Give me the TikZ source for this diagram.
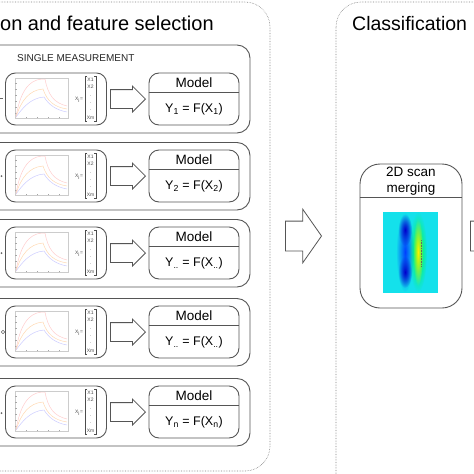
\documentclass[tikz,border=0pt]{standalone}
\usepackage{fontspec}
\setmainfont{Liberation Sans}
\usetikzlibrary{shapes.arrows,fadings}
\definecolor{jetcyan}{RGB}{20,225,235}
\definecolor{boxgray}{RGB}{85,85,85}
\tikzfading[name=blobfade, inner color=transparent!0, outer color=transparent!100]

\begin{document}
\begin{tikzpicture}[x=1pt,y=-1pt]
  \tikzstyle{every node}=[inner sep=0pt]
  \tikzstyle{frame}=[draw=black!50, densely dotted, line width=0.6pt, rounded corners=25pt]
  \tikzstyle{rowbox}=[draw=boxgray, line width=0.9pt, rounded corners=13pt]
  \tikzstyle{measbox}=[rectangle, draw=boxgray, line width=0.9pt, rounded corners=10pt, minimum width=101pt, minimum height=52pt]
  \tikzstyle{modelbox}=[rectangle, draw=boxgray, line width=0.9pt, rounded corners=10pt, minimum width=90pt, minimum height=52pt]
  \tikzstyle{fatarrow}=[single arrow, draw=boxgray, line width=0.8pt, fill=white, minimum height=35pt, inner ysep=9pt, single arrow head extend=3.5pt]
  \tikzstyle{bigarrow}=[fatarrow, minimum height=36pt, inner ysep=14.5pt, single arrow head extend=12pt, single arrow tip angle=110]
  \tikzstyle{tiny}=[font=\fontsize{5}{5}\selectfont, text=black!70]
  \useasboundingbox (0,0) rectangle (474,474);
  \clip (0,0) rectangle (474,474);

  % dotted stage frames
  \draw[frame] (-40,2) rectangle (270,471);
  \draw[frame] (336,2) rectangle (520,520);
  \node[anchor=base west, font=\fontsize{20}{24}\selectfont] (stage1) at (0,30) {on and feature selection};
  \node[anchor=base west, font=\fontsize{19.5}{24}\selectfont] (stage2) at (352,30) {Classification};

  % one row per measurement
  \foreach \n/\y/\t/\s in {1/99/54/1, 2/176/33.5/2, 3/253/33.5/{..}, 4/332/33.5/{..}, 5/412/33.5/n}{
    \draw[rowbox] (-30,\y-\t) rectangle (250,\y+34);
    \node[measbox] (meas\n) at (56,\y) {};
    \begin{scope}[shift={(56,\y)}]
      \draw[black!20, line width=0.3pt] (-41,-21) rectangle (12,19);
      \foreach \k in {-16,-10,-4,2,8,14} \draw[black!35, line width=0.3pt] (-41,\k) -- (-39.5,\k);
      \foreach \k in {-30,-19,-8,3} \draw[black!35, line width=0.3pt] (\k,19) -- (\k,17.5);
      \draw[red!20, line width=0.5pt] (-40,18) .. controls (-36,-6) and (-28,-19) .. (-14,-20) -- (-11,-20) .. controls (-8,-4) and (-2,4) .. (11,7);
      \draw[orange!30, line width=0.5pt] (-40,18) .. controls (-35,2) and (-27,-9) .. (-13,-10) .. controls (-9,2) and (-2,8) .. (11,10);
      \draw[blue!20, line width=0.5pt] (-40,18) .. controls (-34,10) and (-26,-1) .. (-12,-2) .. controls (-7,6) and (0,11) .. (11,13);
      \draw[black!70, line width=0.4pt] (31,-23) -- (29,-23) -- (29,22) -- (31,22)
        (38,-23) -- (40,-23) -- (40,22) -- (38,22);
      \node[tiny] (xa\n) at (34.5,-19) {X1};
      \node[tiny] (xb\n) at (34.5,-12) {X2};
      \node[tiny] (xc\n) at (34.5,-3) {.};
      \node[tiny] (xd\n) at (34.5,4) {.};
      \node[tiny] (xe\n) at (34.5,11) {.};
      \node[tiny] (xm\n) at (34.5,19) {Xm};
      \node[tiny] (xi\n) at (23,1) {X\textsubscript{i}=};
    \end{scope}
    \node[fatarrow, anchor=tip] (arr\n) at (146,\y) {};
    \node[modelbox] (model\n) at (194,\y) {};
    \draw[boxgray, line width=0.9pt] ([yshift=7pt]model\n.west) -- ([yshift=7pt]model\n.east);
    \node[font=\fontsize{13.5}{15}\selectfont] (mtitle\n) at (194,\y-16) {Model};
    \node[font=\fontsize{12.5}{15}\selectfont] (form\n) at (194,\y+10) {Y\textsubscript{\s} = F(X\textsubscript{\s})};
  }
  \node[anchor=base west, font=\fontsize{10}{12}\selectfont, text=black!85] (single) at (17,61) {SINGLE MEASUREMENT};

  % ends of the feeds on the left
  \draw[black!60, line width=0.6pt] (0,98) -- (3,98);
  \fill[black!60] (1.5,176) circle (1);
  \fill[black!60] (1.5,253) circle (1);
  \draw[black!60, line width=0.5pt] (3,332) circle (1.8);
  \fill[black!60] (1.5,413) circle (1);

  % classification stage
  \node[bigarrow, anchor=tip] (mid) at (322,236) {};
  \node[rectangle, draw=boxgray, line width=0.9pt, rounded corners=20pt, minimum width=102pt, minimum height=144pt] (scan) at (411,236) {};
  \coordinate (divy) at (0,197);
  \draw[boxgray, line width=0.9pt] (scan.west |- divy) -- (scan.east |- divy);
  \node[font=\fontsize{13.5}{16}\selectfont, align=center] (scantitle) at (411,181) {2D scan\\merging};
  \fill[jetcyan] (383,212) rectangle (438,293);
  \fill[blue!75!cyan, path fading=blobfade] (405,252) ellipse (9 and 40);
  \fill[blue!80!black, path fading=blobfade] (405,230) ellipse (7 and 16);
  \fill[blue!80!black, path fading=blobfade] (405,272) ellipse (7 and 16);
  \fill[green!80!cyan, path fading=blobfade] (418,252) ellipse (9 and 40);
  \fill[yellow, path fading=blobfade] (418,252) ellipse (5 and 34);
  \draw[black!60, densely dotted, line width=0.6pt] (421,240) -- (421,266);
  \node[bigarrow, anchor=tail] (next) at (470,236) {};
\end{tikzpicture}
\end{document}
